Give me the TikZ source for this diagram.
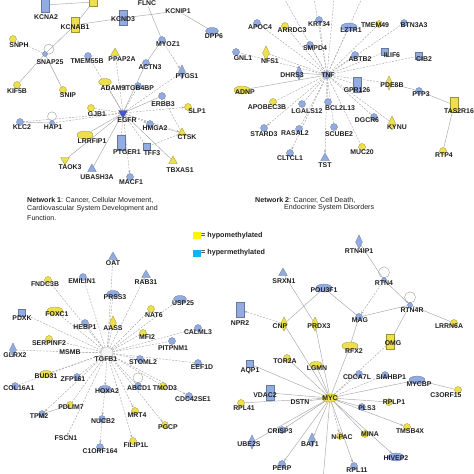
\documentclass[tikz,border=0pt]{standalone}
\usepackage{fontspec}
\setmainfont{Liberation Sans}
\usetikzlibrary{shapes.geometric,arrows.meta,backgrounds}
\definecolor{ylw}{RGB}{238,224,76}
\definecolor{blu}{RGB}{146,172,226}
\definecolor{egc}{RGB}{72,86,205}
\definecolor{legy}{RGB}{255,245,0}
\definecolor{legb}{RGB}{20,178,240}
\tikzset{
  shp/.style={inner sep=0pt, line width=0.3pt},
  yy/.style={shp, fill=ylw, draw=ylw!65!black},
  bb/.style={shp, fill=blu, draw=blu!70!black},
  yC/.style={yy, circle, minimum size=7pt},
  bC/.style={bb, circle, minimum size=7pt},
  bCs/.style={bb, circle, minimum size=5pt},
  wC/.style={shp, circle, minimum size=12pt, fill=gray!8, draw=gray!60},
  yE/.style={yy, ellipse, minimum width=13pt, minimum height=7pt},
  bE/.style={bb, ellipse, minimum width=13pt, minimum height=7pt},
  yEw/.style={yy, ellipse, minimum width=16pt, minimum height=8pt},
  bEw/.style={bb, ellipse, minimum width=16pt, minimum height=8pt},
  yD/.style={yy, diamond, aspect=0.5, minimum width=7pt, minimum height=14pt},
  bD/.style={bb, diamond, aspect=0.5, minimum width=7pt, minimum height=14pt},
  yR/.style={yy, rectangle, minimum width=8pt, minimum height=15pt},
  bR/.style={bb, rectangle, minimum width=8pt, minimum height=15pt},
  ySq/.style={yy, rectangle, minimum size=8pt},
  bSq/.style={bb, rectangle, minimum size=7pt},
  yT/.style={yy, regular polygon, regular polygon sides=3, minimum size=10pt},
  bT/.style={bb, regular polygon, regular polygon sides=3, minimum size=10pt},
  yTd/.style={yT, shape border rotate=180},
  eg/.style={shp, regular polygon, regular polygon sides=3, shape border rotate=180, minimum size=10pt, fill=egc, draw=egc!70!black},
  gtxt/.style={font=\fontsize{6.9}{7.5}\selectfont\bfseries, text=black!88, inner sep=0pt},
  captxt/.style={font=\fontsize{7.1}{8}\selectfont, text=black!88, inner sep=0pt, anchor=west},
  ln/.style={draw=gray!70, line width=0.45pt},
  dl/.style={ln, dash pattern=on 2pt off 1.3pt},
  ar/.style={-{Stealth[length=3pt,width=2.2pt]}}
}
\begin{document}
\begin{tikzpicture}[x=1pt,y=-1pt]
  \useasboundingbox (0,0) rectangle (474,474);
  \def\gn#1#2#3#4#5{\node[#2] (#1) at (#3) {}; \node[gtxt] (#1l) at (#5) {#4};}
  % network 1
  \node[ySq] (kctop) at (93,2) {};
  \gn{kcna}{bR}{45,5}{KCNA2}{46,17}
  \gn{kcnab}{yR}{75,25}{KCNAB1}{75,27}
  \gn{kcnd}{bR}{123,18}{KCND3}{123,19}
  \node[gtxt] (flnc) at (147,3.5) {FLNC};
  \node[gtxt] (kcnip) at (178,11) {KCNIP1};
  \gn{dpp}{bE}{212,31}{DPP6}{214,36}
  \gn{snph}{yC}{13,39}{SNPH}{19,45}
  \gn{snap}{bCs}{45,54}{SNAP25}{50,62}
  \gn{tmem}{bC}{88,56}{TMEM55B}{87,61}
  \gn{ppap}{yT}{115,53}{PPAP2A}{122,59}
  \gn{myoz}{bC}{162,40}{MYOZ1}{168,44}
  \gn{actn}{bC}{146,63}{ACTN3}{150,67}
  \gn{ptgs}{bD}{182,72}{PTGS1}{187,76}
  \gn{kif}{yC}{17,85}{KIF5B}{17,91}
  \gn{snip}{yC}{63,90}{SNIP}{68,95}
  \gn{adam}{yE}{105,82}{ADAM9}{113,88}
  \gn{itgb}{bC}{138,86}{ITGB4BP}{139,88}
  \gn{erbb}{bC}{162,96}{ERBB3}{163,104}
  \gn{slp}{yC}{188,107}{SLP1}{197,111}
  \gn{gjb}{yC}{91,108}{GJB1}{97,114}
  \gn{egfr}{eg}{123,113}{EGFR}{127,120}
  \gn{klc}{bC}{20,122}{KLC2}{22,127}
  \gn{hap}{bCs}{52,123}{HAP1}{53,127}
  \gn{lrr}{yEw}{85,135}{LRRFIP1}{92,141}
  \gn{hmga}{bC}{150,124}{HMGA2}{155,128}
  \gn{ctsk}{yT}{182,133}{CTSK}{187,137}
  \gn{ptger}{bR}{121,143}{PTGER1}{127,152}
  \gn{tff}{bSq}{147,147}{TFF3}{152,153}
  \gn{taok}{yTd}{65,160}{TAOK3}{70,167}
  \gn{ubash}{bT}{92,169}{UBASH3A}{97,177}
  \gn{tbx}{yT}{173,161}{TBXAS1}{180,170}
  \gn{macf}{bC}{130,177}{MACF1}{131,182}
  \node[captxt] (cap1a) at (27,200) {\textbf{Network 1}: Cancer, Cellular Movement,};
  \node[captxt] (cap1b) at (27,209) {Cardiovascular System Development and};
  \node[captxt] (cap1c) at (27,218) {Function.};
  % network 2
  \coordinate (tn1) at (284,-2);
  \coordinate (tn2) at (314,-2);
  \coordinate (tn3) at (334,-2);
  \coordinate (tn4) at (362,-2);
  \gn{apoc}{bC}{257,23}{APOC4}{260,27}
  \gn{arr}{yC}{285,26}{ARRDC3}{292,30}
  \gn{krt}{bC}{319,20}{KRT34}{319,24}
  \gn{lztr}{bEw}{349,27}{LZTR1}{351,30}
  \gn{tm49}{yC}{379,24}{TMEM49}{375,25}
  \gn{btn}{bC}{404,23}{BTN3A3}{414,25}
  \gn{smpd}{bC}{310,45}{SMPD4}{315,48}
  \gn{gnl}{bC}{236,52}{GNL1}{243,58}
  \gn{nfs}{yD}{266,53}{NFS1}{270,61}
  \gn{dhrs}{bD}{299,73}{DHRS3}{292,75}
  \gn{tnf}{bC}{327,75}{TNF}{328,75}
  \gn{abtb}{bC}{355,55}{ABTB2}{360,59}
  \gn{ilif}{bSq}{385,52}{ILIF6}{392,55}
  \gn{cib}{bSq}{419,56}{CIB2}{424,59}
  \gn{adnp}{yEw}{242,90}{ADNP}{245,92}
  \gn{gpr}{bR}{357,85}{GPR126}{357,90}
  \gn{pde}{yD}{389,83}{PDE8B}{392,85}
  \gn{ptp}{bC}{419,91}{PTP3}{421,94}
  \gn{tas}{yR}{454,105}{TAS2R16}{459,111}
  \gn{apob}{yC}{273,102}{APOBEC3B}{267,107}
  \gn{lgal}{bC}{302,104}{LGALS12}{307,111}
  \gn{bcl}{bC}{328,102}{BCL2L13}{340,108}
  \gn{dgcr}{bC}{374,117}{DGCR6}{367,120}
  \gn{kynu}{yD}{392,123}{KYNU}{397,127}
  \gn{stard}{bC}{264,128}{STARD3}{264,134}
  \gn{rasal}{bC}{299,129}{RASAL2}{295,133}
  \gn{scube}{bC}{334,127}{SCUBE2}{339,134}
  \gn{cltc}{bC}{290,153}{CLTCL1}{290,158}
  \gn{tst}{bT}{325,158}{TST}{325,165}
  \gn{muc}{yC}{362,147}{MUC20}{362,152}
  \gn{rtp}{yC}{443,151}{RTP4}{444,155}
  \node[captxt] (cap2a) at (255,200) {\textbf{Network 2}: Cancer, Cell Death,};
  \node[captxt] (cap2b) at (284,208) {Endocrine System Disorders};
  % legend
  \node[shp, fill=legy, minimum width=8pt, minimum height=7pt] (hypo) at (197,235) {};
  \node[gtxt, anchor=west, font=\fontsize{7.2}{8}\selectfont\bfseries] (hypol) at (201,236) {= hypomethylated};
  \node[shp, fill=legb, minimum width=8pt, minimum height=7pt] (hyper) at (197,253) {};
  \node[gtxt, anchor=west, font=\fontsize{7.2}{8}\selectfont\bfseries] (hyperl) at (201,253) {= hypermethylated};
  % network 3
  \gn{oat}{bT}{113,257}{OAT}{113,263}
  \gn{fndc}{yC}{48,280}{FNDC3B}{45,284}
  \gn{emil}{bC}{83,277}{EMILIN1}{82,281}
  \gn{rab}{bT}{146,275}{RAB31}{146,282}
  \gn{prss}{bE}{113,294}{PRSS3}{115,297}
  \gn{usp}{bE}{180,299}{USP25}{183,303}
  \gn{foxc}{yEw}{55,311}{FOXC1}{57,314}
  \gn{nat}{yC}{151,309}{NAT6}{154,315}
  \gn{pdxk}{bSq}{22,313}{PDXK}{22,318}
  \gn{hebp}{bC}{85,323}{HEBP1}{85,327}
  \gn{aass}{yD}{113,323}{AASS}{113,328}
  \gn{mfi}{yC}{143,333}{MFI2}{147,337}
  \gn{calm}{bC}{198,328}{CALML3}{198,332}
  \gn{serp}{yC}{49,339}{SERPINF2}{49,343}
  \gn{pitp}{bC}{172,341}{PITPNM1}{173,348}
  \gn{glrx}{bD}{13,350}{GLRX2}{15,355}
  \node[gtxt] (msmb) at (70,352) {MSMB};
  \gn{tgfb}{wC}{107,353}{TGFB1}{106,359}
  \gn{stom}{bC}{140,359}{STOML2}{143,362}
  \gn{eef}{bC}{198,363}{EEF1D}{202,367}
  \gn{bud}{yE}{46,374}{BUD31}{46,376}
  \gn{zfp}{bC}{77,377}{ZFP161}{73,379}
  \gn{col}{bC}{15,386}{COL16A1}{19,388}
  \gn{hoxa}{bE}{105,389}{HOXA2}{107,391}
  \gn{abcd}{bC}{138,386}{ABCD1}{139,388}
  \gn{tmod}{yC}{163,386}{TMOD3}{165,388}
  \gn{cdc}{bC}{189,396}{CDC42SE1}{193,399}
  \gn{pdlim}{yC}{70,405}{PDLIM7}{71,407}
  \gn{tpm}{bC}{42,414}{TPM2}{39,416}
  \gn{nucb}{bC}{102,419}{NUCB2}{103,421}
  \gn{mrt}{yC}{135,411}{MRT4}{137,415}
  \gn{pgcp}{yC}{165,425}{PGCP}{168,427}
  \node[gtxt] (fscn) at (66,438) {FSCN1};
  \gn{filip}{yC}{133,441}{FILIP1L}{136,445}
  \gn{c1orf}{bC}{100,447}{C1ORF164}{100,451}
  % network 4
  \gn{rtn4ip}{bD}{359,242}{RTN4IP1}{359,251}
  \gn{srxn}{bT}{283,273}{SRXN1}{284,281}
  \gn{rtn4}{bCs}{384,280}{RTN4}{384,283}
  \gn{pou}{bEw}{324,288}{POU3F1}{324,290}
  \gn{rtn4r}{bCs}{410,305}{RTN4R}{412,310}
  \gn{npr}{bR}{240,310}{NPR2}{240,323}
  \gn{cnp}{yD}{284,324}{CNP}{280,326}
  \gn{prdx}{yD}{315,324}{PRDX3}{319,326}
  \gn{mag}{bC}{359,317}{MAG}{360,320}
  \gn{lrrn}{yC}{454,323}{LRRN6A}{449,326}
  \gn{omg}{yR}{390,342}{OMG}{393,343}
  \gn{rfx}{yEw}{350,346}{RFX2}{354,351}
  \gn{aqp}{bSq}{250,364}{AQP1}{250,371}
  \gn{tor}{yC}{287,358}{TOR2A}{285,361}
  \gn{lgmn}{yE}{316,365}{LGMN}{317,368}
  \gn{cdca}{bC}{359,374}{CDCA7L}{357,377}
  \gn{siah}{bC}{385,375}{SIAHBP1}{391,377}
  \gn{mycbp}{bEw}{417,380}{MYCBP}{419,384}
  \gn{c3orf}{yC}{458,390}{C3ORF15}{446,395}
  \gn{vdac}{bR}{270,393}{VDAC2}{265,395}
  \node[gtxt] (dstn) at (300,402) {DSTN};
  \gn{myc}{yEw}{330,398}{MYC}{330,398}
  \gn{rpl41}{yC}{241,403}{RPL41}{244,408}
  \gn{rplp}{yC}{389,402}{RPLP1}{394,402}
  \gn{pls}{bC}{362,407}{PLS3}{367,408}
  \gn{tmsb}{yC}{407,427}{TMSB4X}{410,431}
  \gn{crisp}{bC}{282,430}{CRISP3}{280,431}
  \gn{npac}{yC}{340,436}{N-PAC}{342,437}
  \gn{mina}{yC}{365,434}{MINA}{370,434}
  \gn{ube}{bD}{252,442}{UBE2S}{249,444}
  \gn{bat}{bD}{312,440}{BAT1}{310,444}
  \gn{hivep}{bEw}{396,457}{HIVEP2}{396,458}
  \gn{perp}{bC}{282,464}{PERP}{282,468}
  \gn{rpl11}{bC}{354,466}{RPL11}{357,470}
  \coordinate (mycb) at (323,480);
  % connectors
  \begin{scope}[on background layer]
    \path (kctop) edge[ln] (kcna) edge[ln] (kcnab);
    \path (kcnab) edge[ln] (kcnd) edge[ln] (snap);
    \path (kcnd) edge[ln] (kcnip);
    \path (kcnip) edge[ln] (dpp);
    \path (flnc) edge[ln] (myoz);
    \path (snap) edge[dl] (snph) edge[ln] (kif) edge[ln] (snip);
    \path (myoz) edge[ln] (actn) edge[dl,ar] (ptgs);
    \path (egfr) edge[dl] (tmem) edge[dl] (ppap) edge[ln] (adam) edge[dl] (itgb)
      edge[ln] (actn) edge[dl] (ptgs) edge[ln] (erbb) edge[dl,ar] (slp) edge[dl] (gjb)
      edge[dl] (klc) edge[dl] (hap) edge[ln] (lrr) edge[dl,ar] (hmga) edge[dl,ar] (ctsk)
      edge[dl] (ptger) edge[dl] (tff) edge[ln] (taok) edge[ln] (ubash) edge[ln] (tbx)
      edge[dl,ar] (macf);
    \path (ctsk) edge[dl] (hmga) edge[dl] (tff) edge[dl] (erbb);
    \path (klc) edge[ln] (hap);
    \draw[ln] ([xshift=2pt,yshift=3pt]snap.north east) circle (5pt);
    \draw[ln] ([yshift=4pt]hap.north) circle (4.5pt);
    \path (tnf) edge[dl] (tn1) edge[dl] (tn2) edge[dl] (tn3) edge[dl] (tn4)
      edge[dl] (apoc) edge[dl] (arr) edge[dl] (krt) edge[dl] (lztr) edge[dl] (tm49)
      edge[dl] (btn) edge[dl] (smpd) edge[dl] (gnl) edge[dl] (nfs) edge[ln] (dhrs)
      edge[dl] (abtb) edge[dl] (ilif) edge[dl] (cib) edge[ln] (adnp) edge[dl] (gpr)
      edge[dl] (pde) edge[dl] (apob) edge[dl] (lgal) edge[dl] (bcl) edge[dl] (dgcr)
      edge[dl] (kynu) edge[dl,ar] (stard) edge[dl] (rasal) edge[dl] (scube)
      edge[dl,ar] (cltc) edge[dl,ar] (tst) edge[dl] (muc);
    \path (pde) edge[ln] (ptp);
    \path (ptp) edge[ln] (tas);
    \path (tas) edge[ln] (rtp);
    \path (tgfb) edge[dl,ar] (oat) edge[dl] (fndc) edge[dl] (emil) edge[dl,ar] (rab)
      edge[dl] (prss) edge[dl,ar] (usp) edge[dl] (foxc) edge[dl] (nat) edge[dl] (pdxk)
      edge[dl] (hebp) edge[dl] (aass) edge[dl] (mfi) edge[dl] (calm) edge[dl] (serp)
      edge[dl] (pitp) edge[dl] (glrx) edge[dl] (msmb) edge[dl] (stom) edge[dl] (eef)
      edge[dl] (bud) edge[dl] (zfp) edge[dl] (col) edge[dl,ar] (hoxa) edge[dl] (abcd)
      edge[dl] (tmod) edge[dl,ar] (cdc) edge[dl] (pdlim) edge[dl,ar] (tpm)
      edge[dl,ar] (mrt) edge[dl,ar] (pgcp) edge[dl,ar] (fscn) edge[dl,ar] (filip);
    \path (pdlim) edge[ln] (tpm);
    \path (hoxa) edge[dl,ar] (nucb);
    \path (nucb) edge[dl,ar] (c1orf);
    \draw[ln] ([yshift=4.5pt]abcd.north) circle (5pt);
    \path (rtn4ip) edge[ln] (rtn4);
    \path (rtn4) edge[ln,ar] (rtn4r) edge[dl,ar] (mag);
    \path (rtn4r) edge[ln] (mag) edge[ln] (lrrn) edge[ln] (omg);
    \path (pou) edge[ln] (cnp) edge[ln] (mag);
    \path (srxn) edge[ln] (prdx);
    \path (cnp) edge[dl,ar] (npr);
    \path (rfx) edge[ln,ar] (mag);
    \path (myc) edge[ln] (cnp) edge[ln] (prdx) edge[ln] (rfx) edge[dl] (omg)
      edge[ln] (aqp) edge[ln] (tor) edge[ln] (lgmn) edge[dl] (cdca) edge[dl] (siah)
      edge[ln] (mycbp) edge[ln] (vdac) edge[ln] (dstn) edge[ln] (rpl41) edge[ln] (rplp)
      edge[ln] (pls) edge[ln,ar] (tmsb) edge[ln,ar] (crisp) edge[ln] (ube)
      edge[dl,ar] (npac) edge[ln] (mina) edge[ln,ar] (bat) edge[ln,ar] (hivep)
      edge[ln,ar] (perp) edge[ln,ar] (rpl11) edge[ln] (mycb);
    \path (mycbp) edge[ln] (c3orf);
    \draw[ln] ([yshift=5pt]rtn4.north) circle (5.5pt);
    \draw[ln] ([yshift=5pt]rtn4r.north) circle (5.5pt);
  \end{scope}
\end{tikzpicture}
\end{document}
